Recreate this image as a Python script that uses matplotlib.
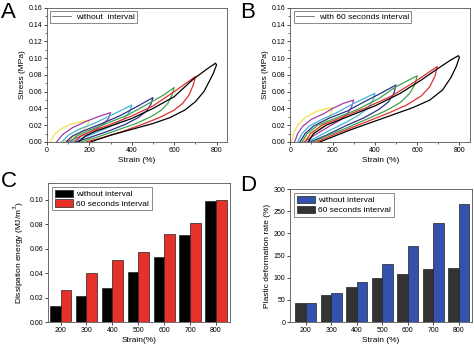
import matplotlib
matplotlib.use("Agg")
import matplotlib.pyplot as plt
from matplotlib.lines import Line2D
from matplotlib.patches import Patch

plt.rcParams["font.family"] = ["Liberation Sans", "DejaVu Sans"]

loop_colors = ["#f2e04a", "#a23aa6", "#45b3d6", "#2e318f", "#3ea34a", "#e0302e", "#000000"]

# panel A: loading then unloading for each cycle (200 ... 800 %)
a_x = [
    [15, 35, 70, 110, 160, 200, 190, 165, 130, 70],
    [45, 75, 120, 180, 240, 300, 290, 265, 220, 160, 95],
    [70, 100, 150, 230, 320, 400, 390, 365, 320, 250, 180, 115],
    [90, 120, 170, 250, 350, 430, 500, 490, 470, 430, 370, 290, 210, 135],
    [110, 140, 190, 280, 380, 480, 550, 600, 590, 570, 540, 490, 420, 330, 240, 160],
    [130, 160, 210, 300, 400, 500, 600, 700, 690, 670, 640, 600, 530, 450, 350, 260, 185],
    [150, 180, 230, 300, 400, 500, 600, 690, 760, 795, 800, 785, 765, 740, 700, 650, 580, 500, 400, 300, 205],
]
a_y = [
    [0, 0.009, 0.016, 0.021, 0.024, 0.026, 0.019, 0.012, 0.006, 0],
    [0, 0.009, 0.017, 0.024, 0.030, 0.035, 0.028, 0.021, 0.014, 0.007, 0],
    [0, 0.008, 0.015, 0.023, 0.034, 0.044, 0.036, 0.028, 0.021, 0.013, 0.006, 0],
    [0, 0.007, 0.013, 0.021, 0.032, 0.043, 0.053, 0.045, 0.037, 0.029, 0.021, 0.013, 0.006, 0],
    [0, 0.007, 0.013, 0.022, 0.032, 0.046, 0.056, 0.065, 0.056, 0.046, 0.038, 0.030, 0.022, 0.014, 0.006, 0],
    [0, 0.007, 0.013, 0.021, 0.031, 0.043, 0.060, 0.078, 0.068, 0.056, 0.046, 0.038, 0.029, 0.021, 0.012, 0.005, 0],
    [0, 0.007, 0.013, 0.019, 0.028, 0.040, 0.054, 0.075, 0.088, 0.094, 0.092, 0.082, 0.072, 0.060, 0.048, 0.038, 0.029, 0.022, 0.015, 0.008, 0],
]

# panel B
b_x = [
    [5, 15, 35, 70, 120, 160, 200, 190, 170, 140, 100, 50],
    [20, 35, 60, 100, 160, 200, 250, 300, 290, 270, 235, 180, 120, 65],
    [35, 55, 90, 150, 220, 300, 350, 400, 390, 365, 325, 260, 180, 120, 80],
    [45, 70, 110, 180, 270, 350, 420, 500, 490, 465, 420, 350, 260, 170, 95],
    [55, 80, 130, 210, 320, 420, 500, 600, 590, 565, 520, 450, 360, 260, 170, 110],
    [70, 95, 150, 240, 360, 480, 590, 695, 685, 660, 620, 550, 460, 360, 250, 170, 125],
    [85, 110, 170, 260, 400, 520, 620, 700, 760, 795, 800, 785, 760, 720, 660, 580, 480, 380, 280, 200, 140],
]
b_y = [
    [0, 0.010, 0.020, 0.029, 0.036, 0.039, 0.041, 0.032, 0.024, 0.016, 0.008, 0],
    [0, 0.010, 0.019, 0.027, 0.034, 0.040, 0.046, 0.050, 0.042, 0.034, 0.026, 0.018, 0.009, 0],
    [0, 0.010, 0.019, 0.027, 0.035, 0.046, 0.052, 0.058, 0.049, 0.040, 0.032, 0.023, 0.013, 0.005, 0],
    [0, 0.010, 0.019, 0.028, 0.037, 0.048, 0.057, 0.068, 0.058, 0.048, 0.039, 0.029, 0.019, 0.008, 0],
    [0, 0.010, 0.020, 0.028, 0.039, 0.052, 0.066, 0.079, 0.069, 0.058, 0.047, 0.037, 0.027, 0.016, 0.007, 0],
    [0, 0.010, 0.020, 0.029, 0.041, 0.055, 0.072, 0.090, 0.079, 0.066, 0.055, 0.044, 0.034, 0.024, 0.013, 0.005, 0],
    [0, 0.010, 0.020, 0.029, 0.043, 0.058, 0.074, 0.088, 0.098, 0.103, 0.101, 0.090, 0.077, 0.062, 0.050, 0.041, 0.032, 0.023, 0.014, 0.006, 0],
]

strain = [200, 300, 400, 500, 600, 700, 800]
diss_no_int = [0.0135, 0.021, 0.028, 0.041, 0.0535, 0.071, 0.099]
diss_60s = [0.026, 0.040, 0.051, 0.057, 0.0725, 0.081, 0.100]
plastic_60s = [43, 61, 78, 100, 108, 119, 123]
plastic_no_int = [44, 66, 90, 130, 171, 224, 267]

fig = plt.figure(figsize=(4.74, 3.47), dpi=100)
axA = fig.add_axes([0.0992, 0.591, 0.380, 0.386])
axB = fig.add_axes([0.6125, 0.591, 0.379, 0.386])
axC = fig.add_axes([0.101, 0.072, 0.384, 0.401])
axD = fig.add_axes([0.612, 0.072, 0.384, 0.383])

fs_tick = 5
fs_lab = 6

def style(ax):
    ax.tick_params(labelsize=fs_tick, length=2, width=0.5, pad=1.5)
    ax.tick_params(which="minor", length=1.2, width=0.4)
    for s in ax.spines.values():
        s.set_linewidth(0.6)
        s.set_color("#555555")

for ax, xs, ys, name in [(axA, a_x, a_y, "without  interval"),
                         (axB, b_x, b_y, "with 60 seconds interval")]:
    for x, y, c in zip(xs, ys, loop_colors):
        ax.plot(x, y, color=c, lw=0.9, solid_joinstyle="round")
    ax.set_xlim(0, 850)
    ax.set_ylim(0, 0.16)
    ax.set_xticks([0, 200, 400, 600, 800])
    ax.set_xticks(range(100, 850, 200), minor=True)
    ax.set_yticks([i * 0.02 for i in range(9)])
    ax.set_yticks([0.01 + i * 0.02 for i in range(8)], minor=True)
    ax.yaxis.set_major_formatter(matplotlib.ticker.FormatStrFormatter("%.2f"))
    ax.set_xlabel("Strain (%)", fontsize=fs_lab, labelpad=2)
    ax.set_ylabel("Stress (MPa)", fontsize=fs_lab, labelpad=2)
    style(ax)
    ax.legend([Line2D([], [], color="#666666", lw=0.6)], [name], loc="upper left",
              fontsize=fs_lab, frameon=True, fancybox=False, edgecolor="#555555",
              handlelength=2.2, borderpad=0.25, handletextpad=0.6,
              borderaxespad=0.4).get_frame().set_linewidth(0.6)

w = 41
axC.bar([s - w / 2 for s in strain], diss_no_int, width=w, color="#000000",
        edgecolor="#222222", lw=0.5)
axC.bar([s + w / 2 for s in strain], diss_60s, width=w, color="#e8302a",
        edgecolor="#222222", lw=0.5)
axC.set_xlim(151, 854)
axC.set_ylim(0, 0.114)
axC.set_xticks(strain)
axC.set_yticks([0, 0.02, 0.04, 0.06, 0.08, 0.10])
axC.yaxis.set_major_formatter(matplotlib.ticker.FormatStrFormatter("%.2f"))
axC.set_xlabel("Strain(%)", fontsize=fs_lab, labelpad=2)
axC.set_ylabel("Dissipation energy (MJ/m$^3$)", fontsize=fs_lab, labelpad=2)
style(axC)
leg = axC.legend([Patch(facecolor="#000000", edgecolor="#222222", lw=0.5),
                  Patch(facecolor="#e8302a", edgecolor="#222222", lw=0.5)],
                 ["without interval", "60 seconds interval"], loc="upper left",
                 fontsize=fs_lab, fancybox=False, edgecolor="#555555",
                 handlelength=2.2, handleheight=1.0, borderpad=0.3,
                 labelspacing=0.15, handletextpad=0.4, borderaxespad=0.5)
leg.get_frame().set_linewidth(0.6)

axD.bar([s - w / 2 for s in strain], plastic_60s, width=w, color="#333333",
        edgecolor="#222222", lw=0.5)
axD.bar([s + w / 2 for s in strain], plastic_no_int, width=w, color="#3452ad",
        edgecolor="#222222", lw=0.5)
axD.set_xlim(139, 852)
axD.set_ylim(0, 300)
axD.set_xticks(strain)
axD.set_yticks(range(0, 301, 50))
axD.set_xlabel("Strain (%)", fontsize=fs_lab, labelpad=2)
axD.set_ylabel("Plastic deformation rate (%)", fontsize=fs_lab, labelpad=2)
style(axD)
leg = axD.legend([Patch(facecolor="#3452ad", edgecolor="#222222", lw=0.5),
                  Patch(facecolor="#333333", edgecolor="#222222", lw=0.5)],
                 ["without interval", "60 seconds interval"], loc="upper left",
                 fontsize=fs_lab, fancybox=False, edgecolor="#555555",
                 handlelength=2.2, handleheight=1.0, borderpad=0.3,
                 labelspacing=0.15, handletextpad=0.4, borderaxespad=0.5)
leg.get_frame().set_linewidth(0.6)

for lab, x, y in [("A", 0.002, 0.995), ("B", 0.506, 0.995),
                  ("C", 0.002, 0.507), ("D", 0.506, 0.495)]:
    fig.text(x, y, lab, fontsize=16, va="top", ha="left")

fig.savefig("out.png", dpi=100)
